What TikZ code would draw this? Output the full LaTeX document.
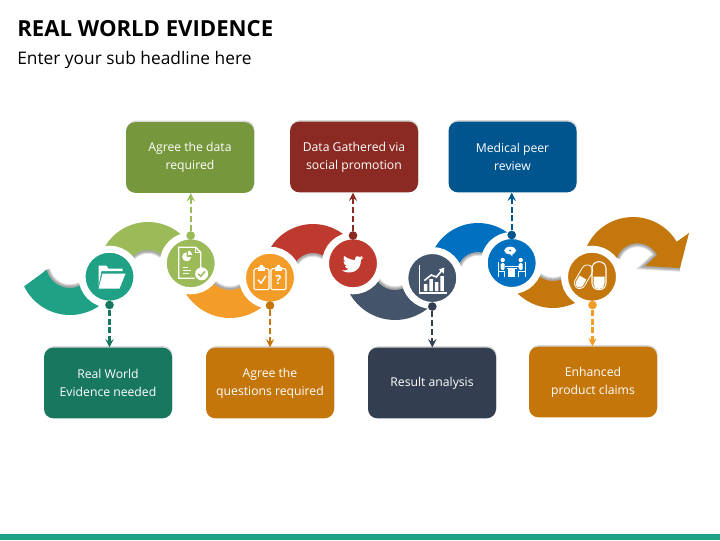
\documentclass[tikz,border=0pt]{standalone}
\usepackage{fontspec}
\setmainfont{Open Sans}
\usepackage{tikz}
\usetikzlibrary{arrows,shapes,shadows,calc}
\definecolor{tealc}{HTML}{1EA185}
\definecolor{tealb}{HTML}{17785F}
\definecolor{greenc}{HTML}{9BBB59}
\definecolor{greenb}{HTML}{76973C}
\definecolor{orangec}{HTML}{F39C27}
\definecolor{orangeb}{HTML}{C4760A}
\definecolor{redc}{HTML}{BE3A2E}
\definecolor{redb}{HTML}{8A2A22}
\definecolor{slatec}{HTML}{44546A}
\definecolor{slateb}{HTML}{333F50}
\definecolor{bluec}{HTML}{0070C0}
\definecolor{blueb}{HTML}{00558F}
\definecolor{brownc}{HTML}{C4770C}
\tikzstyle{box}=[rectangle,rounded corners=7pt,minimum width=96pt,minimum height=53pt,inner sep=0pt,align=center,text=white,font=\fontsize{9.15}{13.5}\selectfont,drop shadow={shadow xshift=.5pt,shadow yshift=1.2pt,opacity=.3}]
\tikzstyle{disc}=[circle,draw=white,line width=5.25pt,minimum size=41.25pt,inner sep=0pt,outer sep=0pt]
\tikzstyle{dot}=[circle,minimum size=6.5pt,inner sep=0pt]
\tikzstyle{edge}=[draw,line width=1.7pt,dash pattern=on 4.5pt off 2.2pt,-stealth]
\tikzstyle{icon}=[draw=white,line width=.8pt]
\newcommand{\band}[8]{
  \foreach \w in {5.5,4,2.5}
    \draw[black,opacity=.13,line width=\w pt] ($(#2)+(#7:#4)$) arc[start angle=#7,end angle=#8,radius=#4];
  \fill[#1] ($(#2)+(#5:#3)$) arc[start angle=#5,end angle=#6,radius=#3] -- ($(#2)+(#7:#4)$) arc[start angle=#7,end angle=#8,radius=#4] -- cycle;
}
\begin{document}
\begin{tikzpicture}[x=.75pt,y=-.75pt]
        \useasboundingbox (0,0) rectangle (720,540);
        \node[anchor=west,inner sep=0pt,font=\fontsize{16.6}{20}\selectfont\bfseries] (title) at (17,29) {REAL WORLD EVIDENCE};
        \node[anchor=west,inner sep=0pt,font=\fontsize{13}{15}\selectfont] (subtitle) at (17,59.5) {Enter your sub headline here};
        \fill[tealc] (0,534) rectangle (720,540);
        %swooshes
        \band{tealc}{70,264}{51}{24}{154}{40}{40}{166}
        \band{greenc}{148,272}{50}{22}{200}{330}{330}{200}
        \band{orangec}{230,266}{52}{24}{160}{35}{35}{160}
        \band{redc}{313,274}{50}{21}{200}{330}{330}{200}
        \band{slatec}{395,268}{52}{22}{160}{35}{35}{160}
        \band{bluec}{478,273}{50}{21}{200}{330}{330}{200}
        \band{brownc}{553,258}{50}{23}{160}{35}{35}{160}
        \foreach \w in {5.5,4,2.5}
          \draw[black,opacity=.13,line width=\w pt] (680,268) -- (645,266) -- (657,255) arc[start angle=332,end angle=200,radius=22];
        \fill[brownc] ($(633,268)+(200:51)$) arc[start angle=200,end angle=329,radius=51] -- (689,233) -- (680,268) -- (645,266) -- (657,255) arc[start angle=332,end angle=200,radius=22] -- cycle;
        %boxes
        \node[box,fill=tealb] (boxneeded) at (108,383) {Real World\\Evidence needed};
        \node[box,fill=greenb] (boxdata) at (190,157.5) {Agree the data\\required};
        \node[box,fill=orangeb] (boxquestions) at (270,383) {Agree the\\questions required};
        \node[box,fill=redb] (boxgathered) at (354,157) {Data Gathered via\\social promotion};
        \node[box,fill=slateb] (boxresult) at (432,383) {Result analysis};
        \node[box,fill=blueb] (boxreview) at (512.5,157) {Medical peer\\review};
        \node[box,fill=orangeb] (boxclaims) at (593,382) {Enhanced\\product claims};
        %circles
        \node[disc,fill=tealc] (needed) at (109.5,276.7) {};
        \node[disc,fill=greenc] (data) at (190.7,263.3) {};
        \node[disc,fill=orangec] (questions) at (270,277.7) {};
        \node[disc,fill=redc] (gathered) at (353,263.3) {};
        \node[disc,fill=slatec] (result) at (432.3,278) {};
        \node[disc,fill=bluec] (review) at (511.7,263) {};
        \node[disc,fill=brownc] (claims) at (592,276.7) {};
        %dots
        \node[dot,fill=tealb] (dotneeded) at (109.5,305) {};
        \node[dot,fill=greenc] (dotdata) at (190.7,235.5) {};
        \node[dot,fill=orangeb] (dotquestions) at (270,305.5) {};
        \node[dot,fill=redb] (dotgathered) at (353,235.5) {};
        \node[dot,fill=slateb] (dotresult) at (432.3,306.5) {};
        \node[dot,fill=blueb] (dotreview) at (511.7,235) {};
        \node[dot,fill=orangec] (dotclaims) at (592.5,305) {};
        \draw[edge,tealb] (dotneeded) -- (dotneeded |- boxneeded.north);
        \draw[edge,greenc] (dotdata) -- (dotdata |- boxdata.south);
        \draw[edge,orangeb] (dotquestions) -- (dotquestions |- boxquestions.north);
        \draw[edge,redb] (dotgathered) -- (dotgathered |- boxgathered.south);
        \draw[edge,slateb] (dotresult) -- (dotresult |- boxresult.north);
        \draw[edge,blueb] (dotreview) -- (dotreview |- boxreview.south);
        \draw[edge,orangec] (dotclaims) -- (dotclaims |- boxclaims.north);
        %folder icon
        \begin{scope}[shift={(needed)}]
          \fill[white] (-11,9) -- (-11,-11) -- (-3,-11) -- (-1,-8) -- (13,-8) -- (13,-5.5) -- (-8,-5.5) -- cycle;
          \fill[white] (-7,-3) -- (16,-3) -- (10,12) -- (-11,12) -- cycle;
        \end{scope}
        %report icon
        \begin{scope}[shift={(data)}]
          \draw[icon,line width=1pt] (10,6) -- (10,-11) -- (5,-16) -- (-12,-16) -- (-12,15) -- (4,15);
          \draw[icon] (5,-16) -- (5,-11) -- (10,-11);
          \fill[white] (-4,-6.5) -- (-4,-11) arc[start angle=-90,end angle=-360,radius=4.5] -- cycle;
          \fill[white] (-2.5,-8.5) -- (-2.5,-12.5) arc[start angle=-90,end angle=0,radius=4] -- cycle;
          \draw[icon] (-8,4) -- (-3,4) (-8,7) -- (0,7) (-8,10) -- (-2,10);
          \fill[white] (11,10.5) circle (6.5);
          \draw[greenc,line width=1.1pt] (7.5,10.5) -- (10,13) -- (14.5,8);
        \end{scope}
        %clipboards icon
        \begin{scope}[shift={(questions)}]
          \draw[icon,rounded corners=1pt] (-16,-9) rectangle (-1,12);
          \draw[icon,rounded corners=1pt] (1,-9) rectangle (16,12);
          \fill[white] (-12,-11) rectangle (-5,-7);
          \fill[white] (5,-11) rectangle (12,-7);
          \fill[white] (-8.5,-11) circle (2);
          \fill[white] (8.5,-11) circle (2);
          \draw[white,line width=1.1pt] (-12,2) -- (-9,5.5) -- (-4,-2);
          \node[text=white,inner sep=0pt,font=\fontsize{9.5}{10}\selectfont\bfseries] (qmark) at (8.5,2) {?};
        \end{scope}
        %bird icon
        \begin{scope}[shift={(gathered)}]
          \fill[white] (10.5,-6) -- (8,-5.2) -- (9.5,-7.5) -- (7,-6.3) .. controls (5.5,-8) and (2,-7.5) .. (2,-4) -- (2,-3.2) .. controls (-2,-3.5) and (-6,-5) .. (-9,-7.5) .. controls (-10,-5) and (-9.5,-3) .. (-7.5,-1.5) -- (-9.5,-2) .. controls (-9.5,.5) and (-8,2) .. (-6,2.7) -- (-8,2.8) .. controls (-7.5,4.5) and (-6,5.5) .. (-4,5.6) .. controls (-6,7) and (-8.5,7.5) .. (-11,7.2) .. controls (-5,11) and (8,10) .. (8,-3.5) .. controls (9,-4) and (10,-5) .. (10.5,-6) -- cycle;
        \end{scope}
        %chart icon
        \begin{scope}[shift={(result)}]
          \draw[icon] (-13,-13) -- (-13,15) -- (15,15);
          \fill[white] (-8.5,6) rectangle (-5,13) (-3,1) rectangle (.5,13) (2.5,4) rectangle (6,13) (8,-2) rectangle (11.5,13);
          \draw[white,line width=1.2pt] (-8,2.5) -- (-1,-3) -- (4,-1) -- (10,-8);
          \fill[white] (12,-10.5) -- (11.5,-4.5) -- (6.5,-8.5) -- cycle;
        \end{scope}
        %meeting icon
        \begin{scope}[shift={(review)}]
          \fill[white] (-1.5,-12.5) ellipse (6 and 3.8);
          \fill[white] (-2,-9.5) -- (.5,-6.5) -- (1,-9.5) -- cycle;
          \fill[bluec] (-1.5,-12.5) circle (1);
          \fill[white] (-9,-3) circle (2.2) (9,-3) circle (2.2);
          \fill[white,rounded corners=1pt] (-11,0) rectangle (-7,7) (7,0) rectangle (11,7);
          \fill[white] (-7,2.5) rectangle (7,3.6);
          \fill[white] (-5,4.5) rectangle (5,6);
          \fill[white] (-3.5,6) rectangle (3.5,13.5);
          \draw[icon,line width=.7pt] (-13.5,-1) -- (-13.5,14) (-13.5,8) -- (-7,8) -- (-7,14) (13.5,-1) -- (13.5,14) (13.5,8) -- (7,8) -- (7,14);
        \end{scope}
        %pills icon
        \begin{scope}[shift={(claims)}]
          \fill[white] (1.5,0) -- (12.5,0) -- (12.5,7) arc[start angle=0,end angle=180,radius=5.5] -- cycle;
          \draw[icon,rounded corners=5pt] (0,-15) rectangle (14,13);
          \begin{scope}[shift={(-8.5,0)},rotate=-30]
            \fill[white] (-4,1) -- (4,1) -- (4,8) arc[start angle=0,end angle=180,radius=4] -- cycle;
            \draw[icon,line width=.6pt,rounded corners=4.5pt] (-5.5,-13) rectangle (5.5,13);
          \end{scope}
        \end{scope}
      \end{tikzpicture}
\end{document}
